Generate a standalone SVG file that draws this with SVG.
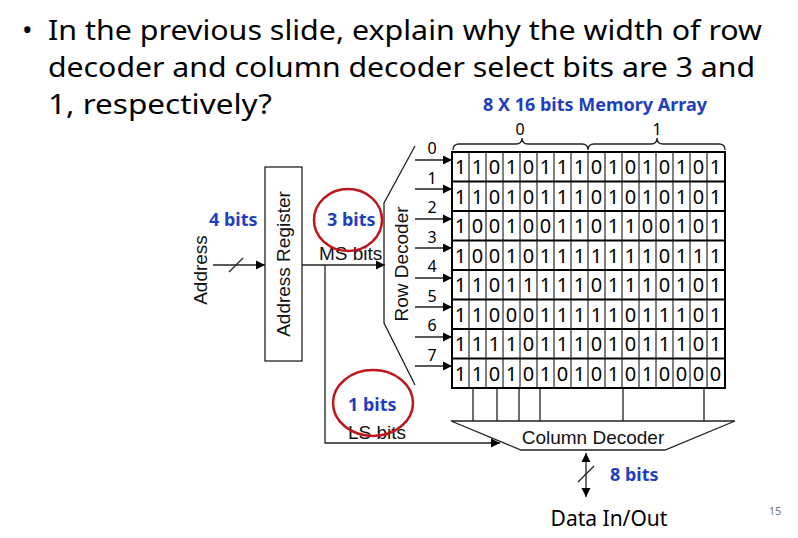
<svg xmlns="http://www.w3.org/2000/svg" width="798" height="538" viewBox="0 0 798 538">
<style>
.t{font-family:"Noto Sans",sans-serif;font-size:28px;fill:#000}
.b{font-family:"Noto Sans",sans-serif;font-size:18px;font-weight:bold;fill:#1f3fbf}
.a{font-family:"Liberation Sans",Arial,sans-serif;font-size:19px;fill:#111}
.c{font-family:"Noto Sans",sans-serif;font-size:16px;fill:#000}
.bit{font-family:"Noto Sans",sans-serif;font-size:20px;fill:#000;text-anchor:middle}
.ln{stroke:#222;stroke-width:1.3;fill:none}
.red{stroke:#c0151b;stroke-width:2.5;fill:none}
</style>
<defs><marker id="ar" viewBox="0 0 10 10" refX="10" refY="5" markerWidth="7" markerHeight="7" orient="auto-start-reverse"><path d="M0,0L10,5L0,10z" fill="#000"/></marker></defs>
<rect width="798" height="538" fill="#fff"/>
<g id="title">
<text class="t" x="22" y="40">•</text>
<text class="t" x="48" y="40" textLength="714" lengthAdjust="spacingAndGlyphs">In the previous slide, explain why the width of row</text>
<text class="t" x="48" y="77" textLength="707" lengthAdjust="spacingAndGlyphs">decoder and column decoder select bits are 3 and</text>
<text class="t" x="48" y="114" textLength="224" lengthAdjust="spacingAndGlyphs">1, respectively?</text>
</g>
<g id="connectors">
<line class="ln" x1="213" y1="265" x2="265" y2="265" marker-end="url(#ar)"/>
<line class="ln" x1="229" y1="272" x2="243" y2="258"/>
<line class="ln" x1="302" y1="265" x2="385" y2="265" marker-end="url(#ar)"/>
<polyline class="ln" points="325,265 325,443 500,443" marker-end="url(#ar)"/>
<line class="ln" x1="586" y1="453" x2="586" y2="497" marker-start="url(#ar)" marker-end="url(#ar)"/>
<line class="ln" x1="578" y1="482" x2="594" y2="466"/>
<g id="rowarrows">
<line class="ln" x1="415" y1="160" x2="452" y2="160" marker-end="url(#ar)"/>
<line class="ln" x1="415" y1="189" x2="452" y2="189" marker-end="url(#ar)"/>
<line class="ln" x1="415" y1="219" x2="452" y2="219" marker-end="url(#ar)"/>
<line class="ln" x1="415" y1="248" x2="452" y2="248" marker-end="url(#ar)"/>
<line class="ln" x1="415" y1="278" x2="452" y2="278" marker-end="url(#ar)"/>
<line class="ln" x1="415" y1="307" x2="452" y2="307" marker-end="url(#ar)"/>
<line class="ln" x1="415" y1="337" x2="452" y2="337" marker-end="url(#ar)"/>
<line class="ln" x1="415" y1="366" x2="452" y2="366" marker-end="url(#ar)"/>
</g>
<path class="ln" d="M473,388V421M497,388V421M519,388V421M540,388V421M623,388V421M704,388V421"/>
</g>
<g id="address">
<text class="a" transform="translate(207,270) rotate(-90)" text-anchor="middle">Address</text>
</g>
<g id="addrreg">
<rect x="265" y="167" width="37" height="194" fill="#fff" stroke="#222" stroke-width="1.3"/>
<text class="a" transform="translate(290,264) rotate(-90)" text-anchor="middle">Address Register</text>
</g>
<g id="rowdec">
<path class="ln" d="M415,146L384,203V323L415,385"/>
<text class="a" transform="translate(408,264) rotate(-90)" text-anchor="middle">Row Decoder</text>
<g class="c" text-anchor="middle">
<text x="432" y="154">0</text><text x="432" y="184">1</text><text x="432" y="213">2</text><text x="432" y="243">3</text><text x="432" y="272">4</text><text x="432" y="302">5</text><text x="432" y="331">6</text><text x="432" y="361">7</text>
</g>
</g>
<g id="labels">
<text class="a" x="319" y="260">MS bits</text>
<text class="a" x="348" y="439">LS bits</text>
<text class="b" x="209" y="226">4 bits</text>
<text class="b" x="327" y="226">3 bits</text>
<text class="b" x="348" y="411">1 bits</text>
<text class="b" x="610" y="481">8 bits</text>
<ellipse class="red" cx="348" cy="220" rx="34" ry="31"/>
<ellipse class="red" cx="373" cy="403" rx="40" ry="33"/>
<text x="609" y="526" text-anchor="middle" style="font-family:'Noto Sans',sans-serif;font-size:21px">Data In/Out</text>
<text x="775" y="515" text-anchor="middle" style="font-family:'Noto Sans',sans-serif;font-size:11px;fill:#777">15</text>
</g>
<g id="array">
<text class="b" x="595" y="111" text-anchor="middle" font-size="19">8 X 16 bits Memory Array</text>
<text class="c" x="520" y="135" text-anchor="middle">0</text>
<text class="c" x="657" y="135" text-anchor="middle">1</text>
<path class="ln" stroke-width="1" d="M453,150Q453,144 459,144H516Q522,144 522,138Q522,144 528,144H582Q588,144 588,150Q588,144 594,144H651Q657,144 657,138Q657,144 663,144H719Q725,144 725,150"/>
<rect x="452" y="152" width="273" height="236" fill="#fff" stroke="#000" stroke-width="2"/>
<path stroke="#000" stroke-width="1" d="M469,152V388M486,152V388M503,152V388M520,152V388M537,152V388M554,152V388M571,152V388M588,152V388M605,152V388M622,152V388M639,152V388M656,152V388M673,152V388M690,152V388M707,152V388"/>
<path stroke="#000" stroke-width="2" d="M452,181.5H725M452,211H725M452,240.5H725M452,270H725M452,299.5H725M452,329H725M452,358.5H725"/>
<g class="bit">
<text y="174"><tspan x="460.5">1</tspan><tspan x="477.5">1</tspan><tspan x="494.5">0</tspan><tspan x="511.5">1</tspan><tspan x="528.5">0</tspan><tspan x="545.5">1</tspan><tspan x="562.5">1</tspan><tspan x="579.5">1</tspan><tspan x="596.5">0</tspan><tspan x="613.5">1</tspan><tspan x="630.5">0</tspan><tspan x="647.5">1</tspan><tspan x="664.5">0</tspan><tspan x="681.5">1</tspan><tspan x="698.5">0</tspan><tspan x="715.5">1</tspan></text>
<text y="203.5"><tspan x="460.5">1</tspan><tspan x="477.5">1</tspan><tspan x="494.5">0</tspan><tspan x="511.5">1</tspan><tspan x="528.5">0</tspan><tspan x="545.5">1</tspan><tspan x="562.5">1</tspan><tspan x="579.5">1</tspan><tspan x="596.5">0</tspan><tspan x="613.5">1</tspan><tspan x="630.5">0</tspan><tspan x="647.5">1</tspan><tspan x="664.5">0</tspan><tspan x="681.5">1</tspan><tspan x="698.5">0</tspan><tspan x="715.5">1</tspan></text>
<text y="233"><tspan x="460.5">1</tspan><tspan x="477.5">0</tspan><tspan x="494.5">0</tspan><tspan x="511.5">1</tspan><tspan x="528.5">0</tspan><tspan x="545.5">0</tspan><tspan x="562.5">1</tspan><tspan x="579.5">1</tspan><tspan x="596.5">0</tspan><tspan x="613.5">1</tspan><tspan x="630.5">1</tspan><tspan x="647.5">0</tspan><tspan x="664.5">0</tspan><tspan x="681.5">1</tspan><tspan x="698.5">0</tspan><tspan x="715.5">1</tspan></text>
<text y="262.5"><tspan x="460.5">1</tspan><tspan x="477.5">0</tspan><tspan x="494.5">0</tspan><tspan x="511.5">1</tspan><tspan x="528.5">0</tspan><tspan x="545.5">1</tspan><tspan x="562.5">1</tspan><tspan x="579.5">1</tspan><tspan x="596.5">1</tspan><tspan x="613.5">1</tspan><tspan x="630.5">1</tspan><tspan x="647.5">1</tspan><tspan x="664.5">0</tspan><tspan x="681.5">1</tspan><tspan x="698.5">1</tspan><tspan x="715.5">1</tspan></text>
<text y="292"><tspan x="460.5">1</tspan><tspan x="477.5">1</tspan><tspan x="494.5">0</tspan><tspan x="511.5">1</tspan><tspan x="528.5">1</tspan><tspan x="545.5">1</tspan><tspan x="562.5">1</tspan><tspan x="579.5">1</tspan><tspan x="596.5">0</tspan><tspan x="613.5">1</tspan><tspan x="630.5">1</tspan><tspan x="647.5">1</tspan><tspan x="664.5">0</tspan><tspan x="681.5">1</tspan><tspan x="698.5">0</tspan><tspan x="715.5">1</tspan></text>
<text y="321.5"><tspan x="460.5">1</tspan><tspan x="477.5">1</tspan><tspan x="494.5">0</tspan><tspan x="511.5">0</tspan><tspan x="528.5">0</tspan><tspan x="545.5">1</tspan><tspan x="562.5">1</tspan><tspan x="579.5">1</tspan><tspan x="596.5">1</tspan><tspan x="613.5">1</tspan><tspan x="630.5">0</tspan><tspan x="647.5">1</tspan><tspan x="664.5">1</tspan><tspan x="681.5">1</tspan><tspan x="698.5">0</tspan><tspan x="715.5">1</tspan></text>
<text y="351"><tspan x="460.5">1</tspan><tspan x="477.5">1</tspan><tspan x="494.5">1</tspan><tspan x="511.5">1</tspan><tspan x="528.5">0</tspan><tspan x="545.5">1</tspan><tspan x="562.5">1</tspan><tspan x="579.5">1</tspan><tspan x="596.5">0</tspan><tspan x="613.5">1</tspan><tspan x="630.5">0</tspan><tspan x="647.5">1</tspan><tspan x="664.5">1</tspan><tspan x="681.5">1</tspan><tspan x="698.5">0</tspan><tspan x="715.5">1</tspan></text>
<text y="380.5"><tspan x="460.5">1</tspan><tspan x="477.5">1</tspan><tspan x="494.5">0</tspan><tspan x="511.5">1</tspan><tspan x="528.5">0</tspan><tspan x="545.5">1</tspan><tspan x="562.5">0</tspan><tspan x="579.5">1</tspan><tspan x="596.5">0</tspan><tspan x="613.5">1</tspan><tspan x="630.5">0</tspan><tspan x="647.5">1</tspan><tspan x="664.5">0</tspan><tspan x="681.5">0</tspan><tspan x="698.5">0</tspan><tspan x="715.5">0</tspan></text>
</g>
</g>
<g id="coldec">
<path class="ln" d="M451,421H735L665,450H521Z" fill="#fff"/>
<text class="a" x="593" y="444" text-anchor="middle">Column Decoder</text>
</g>
</svg>
